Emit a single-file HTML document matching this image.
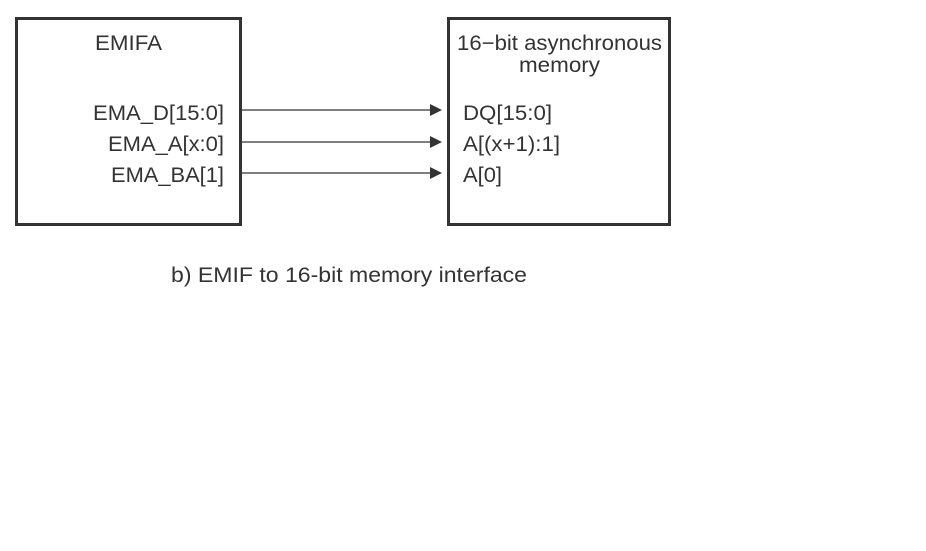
<!DOCTYPE html>
<html><head><style>
html,body{margin:0;padding:0;background:#fff;width:926px;height:551px;overflow:hidden}
</style></head><body>
<svg width="926" height="551" xmlns="http://www.w3.org/2000/svg" font-family="Liberation Sans, sans-serif" font-size="21" fill="#333">
<rect x="16.5" y="18.5" width="224" height="206" fill="none" stroke="#333" stroke-width="3"/>
<rect x="448.5" y="18.5" width="221" height="206" fill="none" stroke="#333" stroke-width="3"/>
<g stroke="#333" stroke-width="1.3">
<line x1="242" y1="110" x2="436" y2="110"/>
<line x1="242" y1="142" x2="436" y2="142"/>
<line x1="242" y1="173" x2="436" y2="173"/>
</g>
<polygon points="430,104 442,110 430,116" fill="#333"/>
<polygon points="430,136 442,142 430,148" fill="#333"/>
<polygon points="430,167 442,173 430,179" fill="#333"/>
<text x="95" y="50" textLength="67" lengthAdjust="spacingAndGlyphs">EMIFA</text>
<text x="93" y="120" textLength="131" lengthAdjust="spacingAndGlyphs">EMA_D[15:0]</text>
<text x="108" y="151" textLength="116" lengthAdjust="spacingAndGlyphs">EMA_A[x:0]</text>
<text x="111" y="182" textLength="113" lengthAdjust="spacingAndGlyphs">EMA_BA[1]</text>
<text x="457" y="50" textLength="205" lengthAdjust="spacingAndGlyphs">16−bit asynchronous</text>
<text x="519" y="72" textLength="81" lengthAdjust="spacingAndGlyphs">memory</text>
<text x="463" y="120" textLength="89" lengthAdjust="spacingAndGlyphs">DQ[15:0]</text>
<text x="463" y="151" textLength="97" lengthAdjust="spacingAndGlyphs">A[(x+1):1]</text>
<text x="463" y="182" textLength="39" lengthAdjust="spacingAndGlyphs">A[0]</text>
<text x="171" y="282" textLength="356" lengthAdjust="spacingAndGlyphs">b) EMIF to 16-bit memory interface</text>
</svg>
</body></html>
